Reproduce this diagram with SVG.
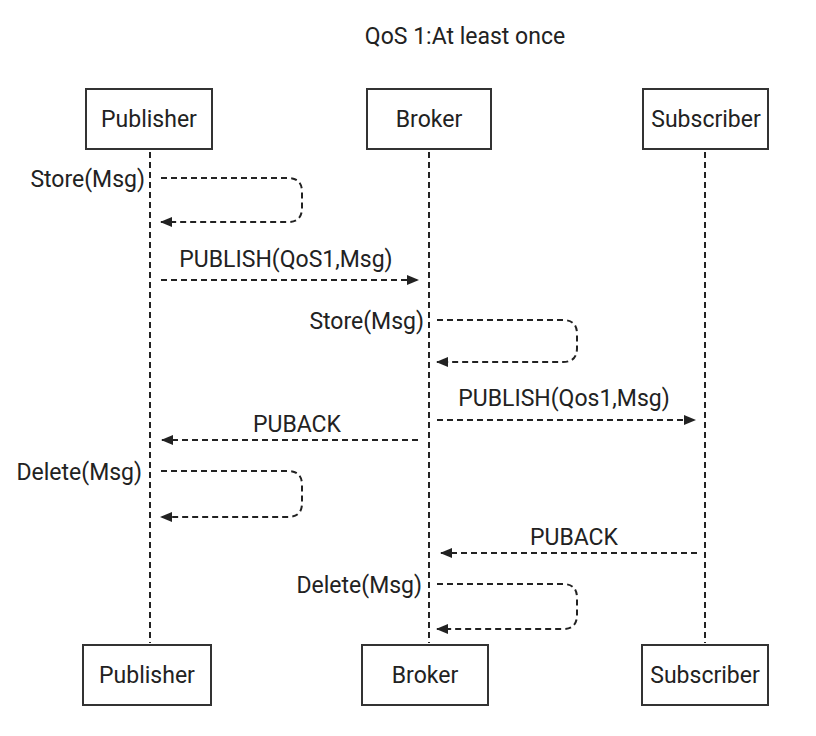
<svg xmlns="http://www.w3.org/2000/svg" width="816" height="736" viewBox="0 0 816 736">
<style>
text{font-family:Roboto,"Liberation Sans",sans-serif;font-size:23px;fill:#222}
.box{fill:#fff;stroke:#333;stroke-width:2}
.life{stroke:#222;stroke-width:2;stroke-dasharray:6 4;fill:none}
.msg{stroke:#222;stroke-width:2;stroke-dasharray:6 4;fill:none;marker-end:url(#ah)}
</style>
<defs><marker id="ah" markerWidth="12" markerHeight="10" refX="11" refY="5" orient="auto" markerUnits="userSpaceOnUse"><path d="M0,0 L12,5 L0,10 z" fill="#222"/></marker></defs>
<rect width="816" height="736" fill="#fff"/>
<text x="465" y="44" text-anchor="middle">QoS 1:At least once</text>
<g id="lifelines">
<line class="life" x1="150" y1="152" x2="150" y2="643"/>
<line class="life" x1="429" y1="152" x2="429" y2="643"/>
<line class="life" x1="705" y1="152" x2="705" y2="643"/>
</g>
<g id="pub-top"><rect class="box" x="86" y="89" width="126" height="60"/><text x="149" y="127" text-anchor="middle">Publisher</text></g>
<g id="broker-top"><rect class="box" x="367" y="89" width="124" height="60"/><text x="429" y="127" text-anchor="middle">Broker</text></g>
<g id="sub-top"><rect class="box" x="643" y="89" width="125" height="60"/><text x="706" y="127" text-anchor="middle">Subscriber</text></g>
<g id="pub-bottom"><rect class="box" x="83" y="645" width="128" height="60"/><text x="147" y="683" text-anchor="middle">Publisher</text></g>
<g id="broker-bottom"><rect class="box" x="362" y="645" width="126" height="60"/><text x="425" y="683" text-anchor="middle">Broker</text></g>
<g id="sub-bottom"><rect class="box" x="642" y="645" width="126" height="60"/><text x="705" y="683" text-anchor="middle">Subscriber</text></g>
<g id="connectors">
<path class="msg" d="M161,178 H288 Q302,178 302,192 V208 Q302,222 288,222 H161"/>
<path class="msg" d="M161,280 H418"/>
<path class="msg" d="M437,320 H563 Q577,320 577,334 V348 Q577,362 563,362 H437"/>
<path class="msg" d="M437,420 H695"/>
<path class="msg" d="M418,440 H162"/>
<path class="msg" d="M161,471 H288 Q302,471 302,485 V503 Q302,517 288,517 H161"/>
<path class="msg" d="M697,553 H441"/>
<path class="msg" d="M437,584 H563 Q577,584 577,598 V615 Q577,629 563,629 H437"/>
</g>
<g id="labels">
<text x="145" y="187" text-anchor="end">Store(Msg)</text>
<text x="286" y="267" text-anchor="middle">PUBLISH(QoS1,Msg)</text>
<text x="424" y="329" text-anchor="end">Store(Msg)</text>
<text x="564" y="406" text-anchor="middle">PUBLISH(Qos1,Msg)</text>
<text x="297" y="432" text-anchor="middle">PUBACK</text>
<text x="142" y="480" text-anchor="end">Delete(Msg)</text>
<text x="574" y="545" text-anchor="middle">PUBACK</text>
<text x="422" y="593" text-anchor="end">Delete(Msg)</text>
</g>
</svg>
